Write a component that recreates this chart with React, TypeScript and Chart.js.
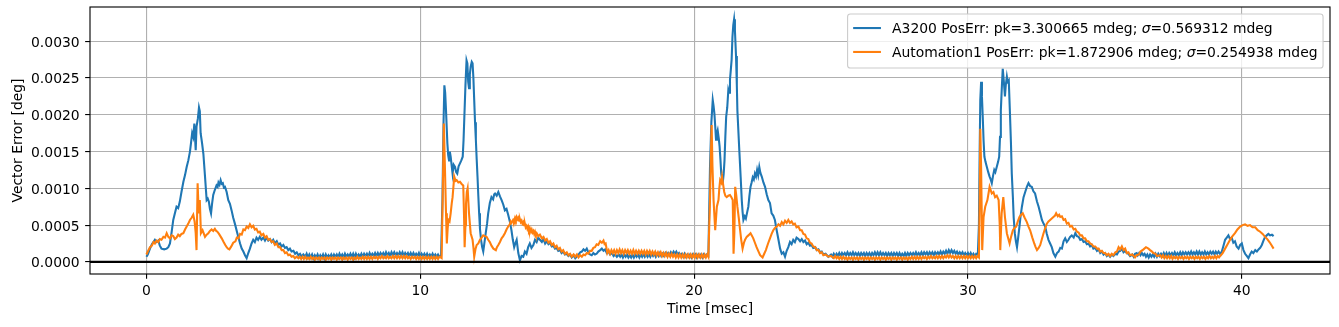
import React, { useEffect, useRef } from 'react';
import { Chart, registerables } from 'chart.js';

Chart.register(...registerables);

const FONT_FAMILY = '"DejaVu Sans", "Liberation Sans", sans-serif';
const FONT_SIZE = 13.9;

const xTickValues = [0, 10, 20, 30, 40];
const yTickValues = [0, 0.0005, 0.001, 0.0015, 0.002, 0.0025, 0.003];
const xLimits = [-2.06, 43.22];
const yLimits = [-0.000165, 0.003466];

const xAxisTitle = 'Time [msec]';
const yAxisTitle = 'Vector Error [deg]';
const legendA3200 = ['A3200 PosErr: pk=3.300665 mdeg; ', 'σ', '=0.569312 mdeg'];
const legendAutomation1 = ['Automation1 PosErr: pk=1.872906 mdeg; ', 'σ', '=0.254938 mdeg'];

// ---------- A3200 position error, [time ms, error mdeg] ----------
const a3200Burst1 = [
  [0, 0.07], [0.05, 0.1], [0.13, 0.18], [0.2, 0.24], [0.31, 0.3], [0.37, 0.27], [0.43, 0.29], [0.49, 0.22], [0.55, 0.18], [0.65, 0.17],
  [0.74, 0.18], [0.8, 0.2], [0.86, 0.25], [0.92, 0.4], [0.98, 0.57], [1.04, 0.66], [1.1, 0.75], [1.16, 0.73], [1.22, 0.82], [1.28, 0.95],
  [1.35, 1.09], [1.41, 1.18], [1.47, 1.29], [1.53, 1.38], [1.59, 1.5], [1.63, 1.62], [1.67, 1.75], [1.71, 1.7], [1.75, 1.88], [1.8, 1.52],
  [1.83, 1.84], [1.88, 1.95], [1.92, 2.1], [1.95, 2.05], [1.98, 1.75], [2.03, 1.62], [2.08, 1.47], [2.14, 1.16], [2.2, 0.84], [2.24, 0.86],
  [2.28, 0.82], [2.32, 0.72], [2.36, 0.66], [2.4, 0.8], [2.44, 0.91], [2.5, 0.98], [2.56, 1.04], [2.6, 1.02], [2.63, 1.08], [2.67, 1.05],
  [2.71, 1.11], [2.75, 1.06], [2.79, 1.07], [2.83, 1.01], [2.87, 1.02], [2.93, 0.95], [2.99, 0.84], [3.05, 0.79], [3.11, 0.7], [3.17, 0.6],
  [3.23, 0.52], [3.32, 0.39], [3.42, 0.25], [3.48, 0.18], [3.54, 0.14], [3.6, 0.09], [3.66, 0.05], [3.72, 0.12], [3.78, 0.18], [3.84, 0.25],
  [3.9, 0.3], [3.96, 0.27], [4.02, 0.33], [4.08, 0.3], [4.14, 0.34], [4.2, 0.3], [4.27, 0.33], [4.33, 0.29], [4.39, 0.33], [4.45, 0.29],
  [4.51, 0.31], [4.57, 0.27], [4.63, 0.3], [4.69, 0.25], [4.76, 0.28], [4.82, 0.23], [4.88, 0.25], [4.94, 0.21], [5.0, 0.23], [5.06, 0.19],
  [5.12, 0.2], [5.18, 0.16], [5.24, 0.18], [5.3, 0.14], [5.37, 0.15], [5.43, 0.11], [5.49, 0.13], [5.55, 0.09], [5.61, 0.11], [5.67, 0.07],
  [5.73, 0.1],
];
const a3200Flat1 = [
  [5.8, 0.07], [5.85, 0.11], [5.9, 0.06], [5.95, 0.1], [6.0, 0.06], [6.05, 0.1], [6.1, 0.05], [6.15, 0.09], [6.2, 0.06], [6.25, 0.1],
  [6.3, 0.05], [6.35, 0.09], [6.4, 0.06], [6.45, 0.1], [6.5, 0.05], [6.55, 0.1], [6.6, 0.06], [6.65, 0.09], [6.7, 0.06], [6.75, 0.1],
  [6.8, 0.06], [6.85, 0.1], [6.9, 0.07], [6.95, 0.1], [7.0, 0.06], [7.05, 0.11], [7.1, 0.07], [7.15, 0.1], [7.2, 0.06], [7.25, 0.11],
  [7.3, 0.07], [7.35, 0.1], [7.4, 0.07], [7.45, 0.11], [7.5, 0.07], [7.55, 0.11], [7.6, 0.06], [7.65, 0.11], [7.7, 0.07], [7.75, 0.1],
  [7.8, 0.07], [7.85, 0.11], [7.9, 0.07], [7.95, 0.11], [8.0, 0.08], [8.05, 0.11], [8.1, 0.07], [8.15, 0.12], [8.2, 0.08], [8.25, 0.11],
  [8.3, 0.08], [8.35, 0.12], [8.4, 0.08], [8.45, 0.12], [8.5, 0.08], [8.55, 0.12], [8.6, 0.09], [8.65, 0.12], [8.7, 0.08], [8.75, 0.13],
  [8.8, 0.09], [8.85, 0.12], [8.9, 0.08], [8.95, 0.13], [9.0, 0.09], [9.05, 0.13], [9.1, 0.09], [9.15, 0.12], [9.2, 0.09], [9.25, 0.13],
  [9.3, 0.09], [9.35, 0.13], [9.4, 0.08], [9.45, 0.12], [9.5, 0.09], [9.55, 0.12], [9.6, 0.08], [9.65, 0.12], [9.7, 0.08], [9.75, 0.12],
  [9.8, 0.08], [9.85, 0.11], [9.9, 0.08], [9.95, 0.12], [10.0, 0.07], [10.05, 0.11], [10.1, 0.08], [10.15, 0.11], [10.2, 0.07], [10.25, 0.11],
  [10.3, 0.07], [10.35, 0.1], [10.4, 0.07], [10.45, 0.11], [10.5, 0.07], [10.55, 0.1], [10.6, 0.07], [10.65, 0.1], [10.7, 0.07], [10.76, 0.09],
];
const a3200Burst2 = [
  [10.81, 0.84], [10.85, 1.9], [10.88, 2.4], [10.91, 2.3], [10.94, 2.06], [10.99, 1.61], [11.02, 1.45], [11.05, 1.38], [11.08, 1.5], [11.11, 1.43],
  [11.15, 1.3], [11.18, 1.2], [11.22, 1.32], [11.27, 1.29], [11.31, 1.22], [11.35, 1.2], [11.4, 1.3], [11.45, 1.34], [11.5, 1.38], [11.55, 1.43],
  [11.58, 1.65], [11.61, 1.97], [11.65, 2.4], [11.69, 2.74], [11.72, 2.7], [11.75, 2.45], [11.78, 2.36], [11.81, 2.55], [11.84, 2.65], [11.88, 2.72],
  [11.91, 2.7], [11.94, 2.5], [11.97, 2.2], [12.0, 1.9], [12.03, 1.66], [12.06, 1.4], [12.09, 1.16], [12.12, 0.9], [12.15, 0.66], [12.18, 0.45],
  [12.22, 0.3], [12.26, 0.2], [12.3, 0.14], [12.34, 0.25], [12.39, 0.39], [12.44, 0.52], [12.48, 0.66], [12.54, 0.8], [12.6, 0.88], [12.66, 0.85],
  [12.7, 0.92], [12.73, 0.93], [12.79, 0.9], [12.85, 0.95], [12.91, 0.89], [12.97, 0.84], [13.03, 0.78], [13.09, 0.7], [13.15, 0.72], [13.21, 0.64],
  [13.27, 0.55], [13.33, 0.43], [13.38, 0.3], [13.43, 0.2], [13.48, 0.26], [13.52, 0.3], [13.58, 0.12], [13.64, 0.02], [13.7, 0.08], [13.76, 0.07],
  [13.82, 0.14], [13.88, 0.11], [13.94, 0.2], [14.0, 0.25], [14.06, 0.19], [14.13, 0.23], [14.19, 0.3], [14.25, 0.27], [14.31, 0.33], [14.37, 0.3],
  [14.44, 0.27], [14.5, 0.31], [14.56, 0.25], [14.62, 0.28], [14.68, 0.24], [14.74, 0.26], [14.8, 0.21], [14.86, 0.22], [14.92, 0.18], [14.98, 0.19],
  [15.04, 0.15], [15.1, 0.16], [15.16, 0.12], [15.22, 0.14], [15.28, 0.1], [15.35, 0.11], [15.41, 0.08], [15.47, 0.1], [15.53, 0.06], [15.6, 0.09],
  [15.66, 0.05], [15.71, 0.07], [15.78, 0.1], [15.84, 0.13], [15.9, 0.14], [15.96, 0.17], [16.02, 0.15], [16.08, 0.18], [16.14, 0.13], [16.2, 0.1],
  [16.26, 0.09], [16.32, 0.12], [16.38, 0.1], [16.44, 0.11], [16.5, 0.14], [16.57, 0.16], [16.63, 0.18], [16.69, 0.15], [16.75, 0.17], [16.81, 0.12],
  [16.87, 0.14], [16.93, 0.1], [17.0, 0.12], [17.06, 0.08], [17.12, 0.1], [17.18, 0.07], [17.25, 0.1],
];
const a3200Flat2 = [
  [17.3, 0.07], [17.35, 0.1], [17.4, 0.06], [17.45, 0.1], [17.5, 0.07], [17.55, 0.1], [17.6, 0.06], [17.65, 0.09], [17.7, 0.06], [17.75, 0.1],
  [17.8, 0.06], [17.85, 0.1], [17.9, 0.07], [17.95, 0.1], [18.0, 0.06], [18.05, 0.1], [18.1, 0.07], [18.15, 0.11], [18.2, 0.07], [18.25, 0.1],
  [18.3, 0.07], [18.35, 0.11], [18.4, 0.07], [18.45, 0.11], [18.5, 0.08], [18.55, 0.11], [18.6, 0.07], [18.65, 0.11], [18.7, 0.08], [18.75, 0.12],
  [18.8, 0.08], [18.85, 0.11], [18.9, 0.08], [18.95, 0.12], [19.0, 0.09], [19.05, 0.12], [19.1, 0.09], [19.15, 0.13], [19.2, 0.1], [19.25, 0.14],
  [19.3, 0.11], [19.35, 0.14], [19.4, 0.1], [19.45, 0.12], [19.5, 0.09], [19.55, 0.11], [19.6, 0.07], [19.65, 0.11], [19.7, 0.07], [19.75, 0.1],
  [19.8, 0.07], [19.85, 0.1], [19.9, 0.06], [19.95, 0.1], [20.0, 0.07], [20.05, 0.1], [20.1, 0.06], [20.15, 0.1], [20.2, 0.07], [20.25, 0.1],
  [20.3, 0.06], [20.35, 0.1], [20.4, 0.07], [20.45, 0.1], [20.52, 0.08],
];
const a3200Burst3 = [
  [20.58, 1.29], [20.63, 1.9], [20.68, 2.2], [20.71, 2.12], [20.74, 2.02], [20.77, 1.85], [20.8, 1.66], [20.83, 1.75], [20.86, 1.79], [20.9, 1.68],
  [20.93, 1.57], [20.96, 1.4], [20.99, 1.2], [21.02, 1.12], [21.05, 1.09], [21.08, 1.2], [21.11, 1.38], [21.14, 1.7], [21.17, 1.97], [21.21, 2.1],
  [21.25, 2.34], [21.28, 2.3], [21.31, 2.48], [21.34, 2.61], [21.37, 2.75], [21.4, 3.06], [21.43, 3.22], [21.46, 3.3], [21.49, 3.15], [21.53, 2.8],
  [21.56, 2.4], [21.58, 2.06], [21.62, 1.75], [21.65, 1.52], [21.7, 1.15], [21.74, 0.84], [21.77, 0.68], [21.8, 0.57], [21.85, 0.62], [21.89, 0.59],
  [21.94, 0.68], [21.98, 0.75], [22.02, 0.9], [22.06, 1.02], [22.1, 1.08], [22.14, 1.15], [22.18, 1.12], [22.22, 1.2], [22.26, 1.16], [22.3, 1.25],
  [22.34, 1.18], [22.38, 1.29], [22.42, 1.21], [22.47, 1.16], [22.53, 1.08], [22.59, 1.02], [22.65, 0.92], [22.71, 0.84], [22.77, 0.8], [22.83, 0.66],
  [22.89, 0.63], [22.95, 0.57], [23.02, 0.42], [23.08, 0.3], [23.14, 0.18], [23.2, 0.11], [23.26, 0.13], [23.32, 0.07], [23.38, 0.15], [23.44, 0.2],
  [23.5, 0.27], [23.56, 0.24], [23.62, 0.3], [23.68, 0.27], [23.74, 0.33], [23.81, 0.31], [23.87, 0.28], [23.93, 0.31], [23.99, 0.27], [24.05, 0.29],
  [24.11, 0.24], [24.17, 0.26], [24.23, 0.22], [24.29, 0.23], [24.35, 0.19], [24.42, 0.2], [24.48, 0.16], [24.54, 0.17], [24.6, 0.13], [24.66, 0.14],
  [24.72, 0.1], [24.8, 0.11], [24.9, 0.07],
];
const a3200Flat3 = [
  [25.0, 0.1], [25.05, 0.07], [25.1, 0.11], [25.15, 0.08], [25.2, 0.11], [25.25, 0.08], [25.3, 0.12], [25.35, 0.08], [25.4, 0.12], [25.45, 0.09],
  [25.5, 0.12], [25.55, 0.09], [25.6, 0.13], [25.65, 0.09], [25.7, 0.12], [25.75, 0.09], [25.8, 0.13], [25.85, 0.09], [25.9, 0.12], [25.95, 0.09],
  [26.0, 0.12], [26.05, 0.08], [26.1, 0.12], [26.15, 0.09], [26.2, 0.12], [26.25, 0.08], [26.3, 0.12], [26.35, 0.09], [26.4, 0.12], [26.45, 0.08],
  [26.5, 0.12], [26.55, 0.09], [26.6, 0.13], [26.65, 0.09], [26.7, 0.13], [26.75, 0.09], [26.8, 0.13], [26.85, 0.09], [26.9, 0.12], [26.95, 0.09],
  [27.0, 0.12], [27.05, 0.08], [27.1, 0.12], [27.15, 0.09], [27.2, 0.12], [27.25, 0.08], [27.3, 0.12], [27.35, 0.09], [27.4, 0.12], [27.45, 0.08],
  [27.5, 0.12], [27.55, 0.08], [27.6, 0.11], [27.65, 0.08], [27.7, 0.12], [27.75, 0.08], [27.8, 0.12], [27.85, 0.09], [27.9, 0.12], [27.95, 0.09],
  [28.0, 0.12], [28.05, 0.09], [28.1, 0.13], [28.15, 0.09], [28.2, 0.12], [28.25, 0.09], [28.3, 0.13], [28.35, 0.09], [28.4, 0.13], [28.45, 0.1],
  [28.5, 0.13], [28.55, 0.09], [28.6, 0.13], [28.65, 0.1], [28.7, 0.13], [28.75, 0.09], [28.8, 0.13], [28.85, 0.1], [28.9, 0.13], [28.95, 0.1],
  [29.0, 0.14], [29.05, 0.1], [29.1, 0.14], [29.15, 0.11], [29.2, 0.15], [29.25, 0.11], [29.3, 0.16], [29.35, 0.12], [29.4, 0.16], [29.45, 0.12],
  [29.5, 0.15], [29.55, 0.11], [29.6, 0.14], [29.65, 0.1], [29.7, 0.13], [29.75, 0.1], [29.8, 0.13], [29.85, 0.09], [29.9, 0.12], [29.95, 0.09],
  [30.0, 0.12], [30.05, 0.08], [30.1, 0.12], [30.15, 0.08], [30.2, 0.11], [30.25, 0.08], [30.3, 0.11], [30.36, 0.09],
];
const a3200Burst4 = [
  [30.4, 0.5], [30.43, 1.6], [30.45, 2.2], [30.48, 2.45], [30.51, 2.25], [30.54, 1.97], [30.57, 1.65], [30.6, 1.43], [30.64, 1.36], [30.69, 1.29],
  [30.74, 1.22], [30.79, 1.16], [30.83, 1.12], [30.87, 1.07], [30.92, 1.18], [30.96, 1.25], [31.0, 1.22], [31.05, 1.29], [31.1, 1.36], [31.14, 1.43],
  [31.17, 1.7], [31.2, 2.06], [31.24, 2.4], [31.27, 2.63], [31.31, 2.45], [31.35, 2.25], [31.38, 2.4], [31.42, 2.52], [31.45, 2.45], [31.49, 2.47],
  [31.53, 2.05], [31.57, 1.61], [31.6, 1.2], [31.64, 0.88], [31.67, 0.6], [31.71, 0.39], [31.75, 0.28], [31.79, 0.2], [31.83, 0.32], [31.88, 0.48],
  [31.92, 0.62], [31.97, 0.75], [32.03, 0.88], [32.09, 0.95], [32.15, 1.02], [32.21, 1.07], [32.27, 1.03], [32.33, 1.02], [32.39, 0.96], [32.45, 0.93],
  [32.52, 0.82], [32.58, 0.75], [32.64, 0.66], [32.7, 0.57], [32.76, 0.52], [32.82, 0.48], [32.88, 0.38], [32.94, 0.3], [33.0, 0.25], [33.06, 0.2],
  [33.12, 0.12], [33.19, 0.07], [33.25, 0.12], [33.31, 0.14], [33.37, 0.19], [33.43, 0.18], [33.49, 0.28], [33.55, 0.32], [33.61, 0.27], [33.67, 0.3],
  [33.73, 0.34], [33.79, 0.36], [33.86, 0.33], [33.92, 0.39], [33.98, 0.35], [34.04, 0.34], [34.1, 0.3], [34.16, 0.31], [34.22, 0.27], [34.28, 0.28],
  [34.34, 0.24], [34.4, 0.25], [34.46, 0.21], [34.52, 0.23], [34.58, 0.18], [34.65, 0.19], [34.71, 0.15], [34.77, 0.17], [34.83, 0.12], [34.89, 0.14],
  [34.95, 0.1], [35.01, 0.12], [35.07, 0.08], [35.13, 0.1], [35.19, 0.07], [35.25, 0.1], [35.31, 0.08], [35.38, 0.11], [35.44, 0.1], [35.5, 0.14],
  [35.56, 0.15], [35.62, 0.18], [35.68, 0.13], [35.74, 0.15], [35.8, 0.12], [35.86, 0.11], [35.92, 0.08], [36.0, 0.1], [36.05, 0.07], [36.1, 0.11],
  [36.16, 0.12], [36.2, 0.09], [36.25, 0.12], [36.3, 0.09], [36.35, 0.12], [36.4, 0.09], [36.45, 0.11],
];
const a3200Flat4 = [
  [36.5, 0.07], [36.55, 0.1], [36.6, 0.06], [36.65, 0.1], [36.7, 0.07], [36.75, 0.1], [36.8, 0.07], [36.85, 0.11], [36.9, 0.07], [36.95, 0.11],
  [37.0, 0.08], [37.05, 0.11], [37.1, 0.08], [37.15, 0.12], [37.2, 0.08], [37.25, 0.12], [37.3, 0.08], [37.35, 0.12], [37.4, 0.09], [37.45, 0.12],
  [37.5, 0.09], [37.55, 0.13], [37.6, 0.09], [37.65, 0.12], [37.7, 0.09], [37.75, 0.13], [37.8, 0.09], [37.85, 0.13], [37.9, 0.1], [37.95, 0.13],
  [38.0, 0.1], [38.05, 0.13], [38.1, 0.1], [38.15, 0.14], [38.2, 0.1], [38.25, 0.13], [38.3, 0.1], [38.35, 0.14], [38.4, 0.1], [38.45, 0.14],
  [38.5, 0.1], [38.55, 0.13], [38.6, 0.1], [38.65, 0.14], [38.7, 0.1], [38.75, 0.13], [38.8, 0.1], [38.85, 0.14], [38.9, 0.11], [38.95, 0.14],
  [39.0, 0.1], [39.05, 0.14], [39.1, 0.11], [39.15, 0.14], [39.2, 0.11], [39.27, 0.14],
];
const a3200Tail = [
  [39.33, 0.22], [39.39, 0.3], [39.45, 0.33], [39.51, 0.36], [39.57, 0.31], [39.63, 0.33], [39.69, 0.26], [39.75, 0.28], [39.81, 0.21], [39.88, 0.18],
  [39.94, 0.23], [40.0, 0.25], [40.06, 0.16], [40.12, 0.11], [40.18, 0.08], [40.24, 0.05], [40.3, 0.1], [40.36, 0.14], [40.42, 0.12], [40.49, 0.16],
  [40.55, 0.14], [40.61, 0.17], [40.67, 0.19], [40.73, 0.23], [40.79, 0.29], [40.85, 0.34], [40.91, 0.36], [40.97, 0.38], [41.03, 0.36], [41.1, 0.37],
  [41.16, 0.35],
];

// ---------- Automation1 position error, [time ms, error mdeg] ----------
const automation1Burst1 = [
  [0, 0.1], [0.06, 0.15], [0.13, 0.2], [0.2, 0.22], [0.26, 0.27], [0.31, 0.25], [0.37, 0.29], [0.43, 0.27], [0.49, 0.31], [0.55, 0.3],
  [0.62, 0.34], [0.68, 0.33], [0.74, 0.39], [0.8, 0.34], [0.86, 0.32], [0.92, 0.36], [0.98, 0.35], [1.04, 0.31], [1.1, 0.33], [1.16, 0.37],
  [1.22, 0.35], [1.28, 0.38], [1.35, 0.39], [1.41, 0.44], [1.47, 0.48], [1.53, 0.52], [1.59, 0.57], [1.65, 0.6], [1.71, 0.64], [1.76, 0.55],
  [1.8, 0.39], [1.83, 0.16], [1.87, 1.07], [1.91, 0.66], [1.95, 0.84], [1.99, 0.39], [2.05, 0.43], [2.1, 0.38], [2.14, 0.34], [2.2, 0.37],
  [2.26, 0.39], [2.32, 0.42], [2.38, 0.44], [2.44, 0.42], [2.5, 0.45], [2.55, 0.42], [2.59, 0.41], [2.65, 0.38], [2.7, 0.35], [2.75, 0.32],
  [2.82, 0.27], [2.88, 0.23], [2.93, 0.2], [2.98, 0.18], [3.03, 0.17], [3.1, 0.21], [3.17, 0.26], [3.25, 0.28], [3.3, 0.33], [3.36, 0.32],
  [3.42, 0.38], [3.48, 0.37], [3.54, 0.44], [3.6, 0.43], [3.66, 0.48], [3.72, 0.46], [3.78, 0.51], [3.84, 0.47], [3.9, 0.49], [3.96, 0.44],
  [4.02, 0.45], [4.08, 0.4], [4.14, 0.41], [4.2, 0.36], [4.27, 0.38], [4.33, 0.33], [4.39, 0.35], [4.45, 0.3], [4.51, 0.31], [4.57, 0.27],
  [4.63, 0.28], [4.69, 0.23], [4.76, 0.25], [4.82, 0.2], [4.88, 0.2], [4.94, 0.16], [5.0, 0.16], [5.06, 0.12], [5.12, 0.13], [5.18, 0.09],
  [5.24, 0.1], [5.3, 0.07], [5.36, 0.08], [5.42, 0.05], [5.49, 0.07],
];
const automation1Flat1 = [
  [5.55, 0.05], [5.6, 0.07], [5.65, 0.04], [5.7, 0.07], [5.75, 0.04], [5.8, 0.07], [5.85, 0.04], [5.9, 0.06], [5.95, 0.04], [6.0, 0.07],
  [6.05, 0.04], [6.1, 0.06], [6.15, 0.03], [6.2, 0.06], [6.25, 0.04], [6.3, 0.06], [6.35, 0.03], [6.4, 0.06], [6.45, 0.04], [6.5, 0.06],
  [6.55, 0.03], [6.6, 0.06], [6.65, 0.04], [6.7, 0.06], [6.75, 0.03], [6.8, 0.06], [6.85, 0.04], [6.9, 0.06], [6.95, 0.03], [7.0, 0.06],
  [7.05, 0.04], [7.1, 0.06], [7.15, 0.03], [7.2, 0.06], [7.25, 0.04], [7.3, 0.06], [7.35, 0.03], [7.4, 0.06], [7.45, 0.04], [7.5, 0.06],
  [7.55, 0.03], [7.6, 0.06], [7.65, 0.04], [7.7, 0.07], [7.75, 0.04], [7.8, 0.06], [7.85, 0.04], [7.9, 0.07], [7.95, 0.04], [8.0, 0.07],
  [8.05, 0.04], [8.1, 0.07], [8.15, 0.04], [8.2, 0.07], [8.25, 0.04], [8.3, 0.07], [8.35, 0.05], [8.4, 0.07], [8.45, 0.04], [8.5, 0.07],
  [8.55, 0.05], [8.6, 0.08], [8.65, 0.05], [8.7, 0.07], [8.75, 0.05], [8.8, 0.08], [8.85, 0.05], [8.9, 0.07], [8.95, 0.05], [9.0, 0.08],
  [9.05, 0.05], [9.1, 0.08], [9.15, 0.05], [9.2, 0.08], [9.25, 0.05], [9.3, 0.08], [9.35, 0.05], [9.4, 0.08], [9.45, 0.05], [9.5, 0.08],
  [9.55, 0.05], [9.6, 0.07], [9.65, 0.04], [9.7, 0.07], [9.75, 0.05], [9.8, 0.07], [9.85, 0.04], [9.9, 0.07], [9.95, 0.04], [10.0, 0.07],
  [10.05, 0.04], [10.1, 0.07], [10.15, 0.04], [10.2, 0.07], [10.25, 0.04], [10.3, 0.07], [10.35, 0.04], [10.4, 0.07], [10.45, 0.04], [10.5, 0.07],
  [10.55, 0.04], [10.6, 0.07], [10.65, 0.04], [10.7, 0.07], [10.78, 0.05],
];
const automation1Burst2 = [
  [10.82, 0.9], [10.86, 1.88], [10.9, 1.29], [10.94, 0.66], [10.97, 0.25], [11.0, 0.45], [11.03, 0.57], [11.07, 0.55], [11.11, 0.66], [11.15, 0.8],
  [11.18, 0.88], [11.21, 1.02], [11.24, 1.16], [11.29, 1.1], [11.33, 1.11], [11.39, 1.08], [11.45, 1.09], [11.51, 1.06], [11.57, 1.04], [11.6, 0.6],
  [11.62, 0.2], [11.65, 0.5], [11.67, 0.79], [11.7, 0.95], [11.73, 1.0], [11.78, 0.66], [11.84, 0.39], [11.91, 0.3], [11.94, 0.2], [11.97, 0.07],
  [12.02, 0.18], [12.06, 0.23], [12.12, 0.25], [12.18, 0.3], [12.24, 0.33], [12.3, 0.36], [12.36, 0.35], [12.42, 0.34], [12.48, 0.3], [12.54, 0.27],
  [12.6, 0.22], [12.67, 0.18], [12.76, 0.16], [12.8, 0.2], [12.85, 0.23], [12.91, 0.27], [12.97, 0.32], [13.03, 0.35], [13.09, 0.39], [13.15, 0.44],
  [13.21, 0.48], [13.27, 0.51], [13.3, 0.55], [13.33, 0.53], [13.39, 0.57], [13.42, 0.55], [13.46, 0.6], [13.49, 0.57], [13.52, 0.61], [13.55, 0.58],
  [13.58, 0.6], [13.61, 0.56], [13.64, 0.58], [13.67, 0.54], [13.7, 0.56], [13.73, 0.52], [13.76, 0.54], [13.79, 0.5], [13.82, 0.52], [13.85, 0.47],
  [13.88, 0.49], [13.91, 0.45], [13.94, 0.48], [13.97, 0.43], [14.0, 0.46], [14.04, 0.41], [14.07, 0.44], [14.1, 0.4], [14.13, 0.42], [14.16, 0.38],
  [14.19, 0.41], [14.22, 0.37], [14.25, 0.39], [14.31, 0.35], [14.37, 0.37], [14.44, 0.32], [14.5, 0.34], [14.56, 0.29], [14.62, 0.31], [14.68, 0.26],
  [14.74, 0.28], [14.8, 0.23], [14.86, 0.25], [14.92, 0.2], [14.98, 0.22], [15.04, 0.17], [15.1, 0.19], [15.16, 0.14], [15.22, 0.16], [15.28, 0.11],
  [15.35, 0.13], [15.41, 0.09], [15.47, 0.11], [15.53, 0.07], [15.6, 0.1], [15.66, 0.07], [15.72, 0.1], [15.78, 0.06], [15.84, 0.09], [15.9, 0.07],
  [15.96, 0.1], [16.02, 0.09], [16.08, 0.12], [16.14, 0.11], [16.2, 0.15], [16.26, 0.15], [16.32, 0.19], [16.38, 0.2], [16.44, 0.24], [16.5, 0.23],
  [16.57, 0.28], [16.63, 0.26], [16.69, 0.29], [16.73, 0.24], [16.77, 0.25],
];
const automation1Flat2 = [
  [16.83, 0.12], [16.88, 0.16], [16.93, 0.11], [16.98, 0.16], [17.03, 0.12], [17.08, 0.16], [17.13, 0.11], [17.18, 0.16], [17.23, 0.12], [17.28, 0.17],
  [17.33, 0.12], [17.38, 0.16], [17.43, 0.11], [17.48, 0.16], [17.53, 0.12], [17.58, 0.16], [17.63, 0.11], [17.68, 0.15], [17.73, 0.11], [17.78, 0.16],
  [17.83, 0.11], [17.88, 0.15], [17.93, 0.11], [17.98, 0.15], [18.03, 0.11], [18.08, 0.15], [18.13, 0.11], [18.18, 0.15], [18.23, 0.1], [18.28, 0.15],
  [18.33, 0.11], [18.38, 0.15], [18.43, 0.1], [18.48, 0.14], [18.53, 0.1], [18.58, 0.14], [18.63, 0.09], [18.68, 0.13], [18.73, 0.09], [18.78, 0.13],
  [18.83, 0.08], [18.88, 0.12], [18.93, 0.08], [18.98, 0.12], [19.03, 0.07], [19.08, 0.11], [19.13, 0.07], [19.18, 0.11], [19.23, 0.07], [19.28, 0.1],
  [19.33, 0.06], [19.38, 0.1], [19.43, 0.06], [19.48, 0.1], [19.53, 0.06], [19.58, 0.1], [19.63, 0.06], [19.68, 0.1], [19.73, 0.06], [19.78, 0.1],
  [19.83, 0.06], [19.88, 0.1], [19.93, 0.06], [19.98, 0.1], [20.03, 0.06], [20.08, 0.1], [20.13, 0.06], [20.18, 0.1], [20.23, 0.06], [20.28, 0.1],
  [20.33, 0.06], [20.38, 0.1], [20.43, 0.06], [20.48, 0.1], [20.52, 0.07],
];
const automation1Burst3 = [
  [20.58, 0.84], [20.61, 1.4], [20.64, 1.86], [20.67, 1.3], [20.71, 0.84], [20.77, 0.43], [20.83, 0.75], [20.89, 0.84], [20.92, 1.0], [20.95, 1.11],
  [20.99, 1.08], [21.02, 1.16], [21.06, 1.05], [21.1, 0.95], [21.14, 0.9], [21.19, 0.88], [21.25, 0.9], [21.31, 0.91], [21.36, 0.88], [21.41, 0.84],
  [21.44, 0.11], [21.47, 0.4], [21.5, 1.02], [21.54, 0.9], [21.58, 0.75], [21.63, 0.6], [21.68, 0.43], [21.72, 0.3], [21.77, 0.18], [21.82, 0.26],
  [21.86, 0.3], [21.92, 0.34], [21.98, 0.36], [22.06, 0.39], [22.12, 0.35], [22.16, 0.32], [22.22, 0.26], [22.28, 0.2], [22.34, 0.15], [22.41, 0.09],
  [22.5, 0.06], [22.56, 0.11], [22.62, 0.16], [22.7, 0.25], [22.77, 0.32], [22.83, 0.38], [22.89, 0.43], [22.95, 0.46], [23.02, 0.48], [23.08, 0.51],
  [23.14, 0.49], [23.2, 0.54], [23.26, 0.51], [23.32, 0.56], [23.38, 0.53], [23.44, 0.57], [23.5, 0.53], [23.56, 0.55], [23.62, 0.51], [23.68, 0.52],
  [23.74, 0.47], [23.81, 0.48], [23.87, 0.43], [23.93, 0.43], [23.99, 0.38], [24.05, 0.37], [24.11, 0.32], [24.17, 0.31], [24.23, 0.26], [24.29, 0.25],
  [24.35, 0.21], [24.42, 0.2], [24.48, 0.16], [24.54, 0.16], [24.6, 0.12], [24.66, 0.13], [24.72, 0.09], [24.8, 0.1], [24.9, 0.07], [25.0, 0.08],
];
const automation1Flat3 = [
  [25.1, 0.05], [25.15, 0.08], [25.2, 0.05], [25.25, 0.07], [25.3, 0.04], [25.35, 0.07], [25.4, 0.04], [25.45, 0.07], [25.5, 0.04], [25.55, 0.06],
  [25.6, 0.03], [25.65, 0.06], [25.7, 0.04], [25.75, 0.06], [25.8, 0.03], [25.85, 0.06], [25.9, 0.04], [25.95, 0.06], [26.0, 0.03], [26.05, 0.06],
  [26.1, 0.04], [26.15, 0.06], [26.2, 0.03], [26.25, 0.06], [26.3, 0.04], [26.35, 0.06], [26.4, 0.03], [26.45, 0.06], [26.5, 0.04], [26.55, 0.06],
  [26.6, 0.03], [26.65, 0.06], [26.7, 0.04], [26.75, 0.06], [26.8, 0.03], [26.85, 0.06], [26.9, 0.04], [26.95, 0.06], [27.0, 0.03], [27.05, 0.06],
  [27.1, 0.04], [27.15, 0.06], [27.2, 0.03], [27.25, 0.06], [27.3, 0.04], [27.35, 0.06], [27.4, 0.03], [27.45, 0.06], [27.5, 0.04], [27.55, 0.06],
  [27.6, 0.03], [27.65, 0.06], [27.7, 0.04], [27.75, 0.06], [27.8, 0.03], [27.85, 0.06], [27.9, 0.04], [27.95, 0.07], [28.0, 0.04], [28.05, 0.07],
  [28.1, 0.04], [28.15, 0.07], [28.2, 0.04], [28.25, 0.07], [28.3, 0.04], [28.35, 0.07], [28.4, 0.05], [28.45, 0.07], [28.5, 0.04], [28.55, 0.07],
  [28.6, 0.05], [28.65, 0.08], [28.7, 0.05], [28.75, 0.07], [28.8, 0.05], [28.85, 0.08], [28.9, 0.05], [28.95, 0.08], [29.0, 0.05], [29.05, 0.08],
  [29.1, 0.05], [29.15, 0.08], [29.2, 0.06], [29.25, 0.09], [29.3, 0.06], [29.35, 0.09], [29.4, 0.06], [29.45, 0.08], [29.5, 0.05], [29.55, 0.08],
  [29.6, 0.05], [29.65, 0.08], [29.7, 0.05], [29.75, 0.08], [29.8, 0.05], [29.85, 0.08], [29.9, 0.05], [29.95, 0.08], [30.0, 0.05], [30.05, 0.08],
  [30.1, 0.05], [30.15, 0.08], [30.2, 0.05], [30.25, 0.08], [30.3, 0.05], [30.35, 0.08], [30.4, 0.06],
];
const automation1Burst4 = [
  [30.43, 0.9], [30.45, 1.81], [30.48, 1.29], [30.52, 0.16], [30.57, 0.61], [30.63, 0.75], [30.71, 0.84], [30.79, 1.02], [30.87, 0.93], [30.93, 0.95],
  [30.99, 0.88], [31.05, 0.9], [31.12, 0.84], [31.16, 0.5], [31.18, 0.16], [31.23, 0.66], [31.29, 0.88], [31.35, 0.61], [31.42, 0.39], [31.52, 0.25],
  [31.58, 0.35], [31.64, 0.43], [31.7, 0.46], [31.76, 0.48], [31.82, 0.55], [31.88, 0.61], [31.94, 0.64], [32.0, 0.66], [32.07, 0.6], [32.15, 0.54],
  [32.21, 0.48], [32.27, 0.43], [32.35, 0.33], [32.42, 0.25], [32.47, 0.2], [32.52, 0.16], [32.58, 0.19], [32.64, 0.23], [32.7, 0.31], [32.76, 0.39],
  [32.82, 0.46], [32.88, 0.52], [32.94, 0.55], [33.0, 0.57], [33.06, 0.59], [33.12, 0.61], [33.18, 0.63], [33.22, 0.66], [33.28, 0.62], [33.33, 0.64],
  [33.37, 0.61], [33.43, 0.62], [33.49, 0.57], [33.55, 0.58], [33.61, 0.52], [33.67, 0.53], [33.73, 0.48], [33.79, 0.49], [33.86, 0.44], [33.92, 0.45],
  [33.98, 0.41], [34.04, 0.4], [34.1, 0.36], [34.16, 0.36], [34.22, 0.32], [34.28, 0.32], [34.34, 0.28], [34.4, 0.28], [34.46, 0.25], [34.52, 0.24],
  [34.58, 0.21], [34.65, 0.21], [34.71, 0.18], [34.77, 0.18], [34.83, 0.14], [34.89, 0.15], [34.95, 0.12], [35.01, 0.12], [35.07, 0.09], [35.13, 0.11],
  [35.19, 0.08], [35.25, 0.11], [35.31, 0.09], [35.38, 0.13], [35.44, 0.14], [35.5, 0.2], [35.56, 0.17], [35.62, 0.21], [35.68, 0.16], [35.74, 0.18],
  [35.8, 0.12], [35.86, 0.13], [35.92, 0.09], [36.0, 0.1], [36.1, 0.06], [36.16, 0.09], [36.24, 0.1], [36.3, 0.14], [36.41, 0.17], [36.5, 0.2],
  [36.59, 0.18], [36.65, 0.16], [36.72, 0.14], [36.77, 0.12], [36.85, 0.11], [36.9, 0.08],
];
const automation1Flat4 = [
  [37.02, 0.09], [37.07, 0.06], [37.12, 0.09], [37.17, 0.05], [37.22, 0.08], [37.27, 0.05], [37.32, 0.08], [37.37, 0.05], [37.42, 0.08], [37.47, 0.04],
  [37.52, 0.07], [37.57, 0.05], [37.62, 0.07], [37.67, 0.04], [37.72, 0.07], [37.77, 0.05], [37.82, 0.07], [37.87, 0.04], [37.92, 0.07], [37.97, 0.05],
  [38.02, 0.07], [38.07, 0.04], [38.12, 0.07], [38.17, 0.05], [38.22, 0.07], [38.27, 0.04], [38.32, 0.07], [38.37, 0.05], [38.42, 0.07], [38.47, 0.04],
  [38.52, 0.07], [38.57, 0.05], [38.62, 0.07], [38.67, 0.04], [38.72, 0.07], [38.77, 0.05], [38.82, 0.08], [38.87, 0.05], [38.92, 0.07], [38.97, 0.05],
  [39.02, 0.08], [39.07, 0.05], [39.12, 0.08], [39.17, 0.06], [39.21, 0.08],
];
const automation1Tail = [
  [39.3, 0.12], [39.39, 0.18], [39.48, 0.24], [39.57, 0.3], [39.66, 0.35], [39.75, 0.39], [39.84, 0.44], [39.94, 0.48], [40.03, 0.5], [40.12, 0.51],
  [40.21, 0.49], [40.3, 0.5], [40.39, 0.47], [40.49, 0.47], [40.58, 0.43], [40.67, 0.41], [40.76, 0.38], [40.85, 0.34], [40.93, 0.31], [41.01, 0.27],
  [41.08, 0.23], [41.16, 0.18],
];

const BLUE = '#1f77b4';
const ORANGE = '#ff7f0e';

function toPoints(parts: number[][][]) {
  const out: { x: number; y: number }[] = [];
  parts.forEach((part) => part.forEach(([t, v]) => out.push({ x: t, y: v / 1000 })));
  return out;
}

const overlayPlugin = {
  id: 'mplOverlay',
  afterDraw(chart: any) {
    const { ctx, chartArea: a, scales } = chart;
    ctx.save();
    const y0 = scales.y.getPixelForValue(0);
    ctx.strokeStyle = '#000';
    ctx.lineWidth = 2.08;
    ctx.beginPath();
    ctx.moveTo(a.left, y0);
    ctx.lineTo(a.right, y0);
    ctx.stroke();
    ctx.lineWidth = 1.11;
    ctx.strokeRect(a.left, a.top, a.right - a.left, a.bottom - a.top);

    const normal = `${FONT_SIZE}px ${FONT_FAMILY}`;
    const italic = `italic ${FONT_SIZE}px ${FONT_FAMILY}`;
    const rows = [
      { parts: legendA3200, color: BLUE },
      { parts: legendAutomation1, color: ORANGE },
    ];
    const measure = (parts: string[]) => {
      let w = 0;
      parts.forEach((p, i) => {
        ctx.font = i === 1 ? italic : normal;
        w += ctx.measureText(p).width;
      });
      return w;
    };
    const textW = Math.max(...rows.map((r) => measure(r.parts)));
    const pad = 0.4 * FONT_SIZE;
    const handleLen = 2 * FONT_SIZE;
    const handlePad = 0.8 * FONT_SIZE;
    const boxW = pad + handleLen + handlePad + textW + pad;
    const boxH = 54;
    const bx = a.right - 0.5 * FONT_SIZE - boxW;
    const by = a.top + 0.5 * FONT_SIZE;
    ctx.beginPath();
    if (ctx.roundRect) ctx.roundRect(bx, by, boxW, boxH, 2.8);
    else ctx.rect(bx, by, boxW, boxH);
    ctx.fillStyle = 'rgba(255,255,255,0.8)';
    ctx.fill();
    ctx.strokeStyle = '#cccccc';
    ctx.lineWidth = 1.11;
    ctx.stroke();

    const baselines = [by + 19.4, by + 43.3];
    rows.forEach((r, i) => {
      const base = baselines[i];
      ctx.strokeStyle = r.color;
      ctx.lineWidth = 2.08;
      ctx.beginPath();
      ctx.moveTo(bx + pad, base - 5.3);
      ctx.lineTo(bx + pad + handleLen, base - 5.3);
      ctx.stroke();
      let x = bx + pad + handleLen + handlePad;
      ctx.fillStyle = '#000';
      ctx.textBaseline = 'alphabetic';
      ctx.textAlign = 'left';
      r.parts.forEach((p, j) => {
        ctx.font = j === 1 ? italic : normal;
        ctx.fillText(p, x, base);
        x += ctx.measureText(p).width;
      });
    });
    ctx.restore();
  },
};

export default function App() {
  const canvasRef = useRef<HTMLCanvasElement | null>(null);

  useEffect(() => {
    if (!canvasRef.current) return;
    const font = { family: FONT_FAMILY, size: FONT_SIZE };
    const chart = new Chart(canvasRef.current, {
      type: 'line',
      data: {
        datasets: [
          {
            label: 'A3200 PosErr',
            data: toPoints([a3200Burst1, a3200Flat1, a3200Burst2, a3200Flat2, a3200Burst3, a3200Flat3, a3200Burst4, a3200Flat4, a3200Tail]),
            borderColor: BLUE,
            backgroundColor: BLUE,
            borderWidth: 2.08,
            pointRadius: 0,
            tension: 0,
            fill: false,
            order: 1,
          },
          {
            label: 'Automation1 PosErr',
            data: toPoints([
              automation1Burst1, automation1Flat1, automation1Burst2, automation1Flat2, automation1Burst3,
              automation1Flat3, automation1Burst4, automation1Flat4, automation1Tail,
            ]),
            borderColor: ORANGE,
            backgroundColor: ORANGE,
            borderWidth: 2.08,
            pointRadius: 0,
            tension: 0,
            fill: false,
            order: 0,
          },
        ],
      },
      options: {
        animation: false,
        responsive: false,
        devicePixelRatio: 1,
        layout: { padding: { top: 7, right: 9, left: 0, bottom: 0 } },
        plugins: { legend: { display: false }, tooltip: { enabled: false } },
        scales: {
          x: {
            type: 'linear',
            min: xLimits[0],
            max: xLimits[1],
            afterBuildTicks: (s: any) => {
              s.ticks = xTickValues.map((v) => ({ value: v }));
            },
            afterFit: (s: any) => {
              s.height = 53;
              s.paddingLeft = 0;
              s.paddingRight = 0;
            },
            border: { display: false },
            grid: { color: '#b0b0b0', lineWidth: 1.11, tickColor: '#000', tickLength: 4.86, tickWidth: 1.11, drawTicks: true },
            ticks: { color: '#000', font, padding: 4, maxRotation: 0, autoSkip: false, callback: (v: any) => String(v) },
            title: { display: true, text: xAxisTitle, color: '#000', font, padding: { top: 0, bottom: 9.7 } },
          },
          y: {
            type: 'linear',
            min: yLimits[0],
            max: yLimits[1],
            afterBuildTicks: (s: any) => {
              s.ticks = yTickValues.map((v) => ({ value: v }));
            },
            afterFit: (s: any) => {
              s.width = 90;
              s.paddingTop = 0;
              s.paddingBottom = 0;
            },
            border: { display: false },
            grid: { color: '#b0b0b0', lineWidth: 1.11, tickColor: '#000', tickLength: 4.86, tickWidth: 1.11, drawTicks: true },
            ticks: { color: '#000', font, padding: 5.5, labelOffset: 1.8, autoSkip: false, callback: (v: any) => Number(v).toFixed(4) },
            title: { display: true, text: yAxisTitle, color: '#000', font, padding: { top: 9.9, bottom: 0 } },
          },
        },
      },
      plugins: [overlayPlugin],
    });
    return () => chart.destroy();
  }, []);

  return (
    <div style={{ position: 'absolute', left: 0, top: 0, width: 1339, height: 327, background: '#fff' }}>
      <canvas ref={canvasRef} width={1339} height={327} style={{ display: 'block' }} />
    </div>
  );
}
